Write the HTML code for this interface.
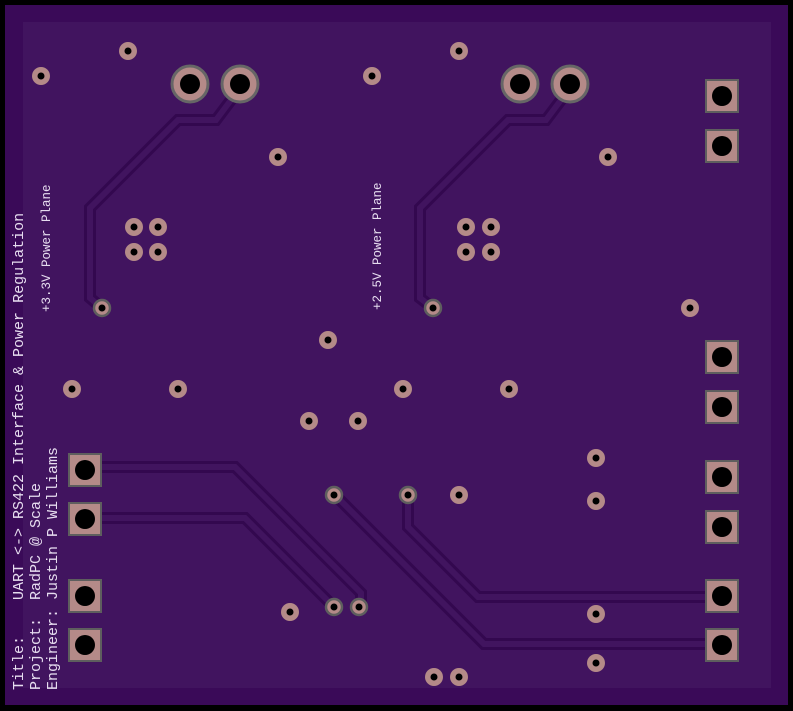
<!DOCTYPE html>
<html><head><style>
html,body{margin:0;padding:0;background:#000;}
svg{display:block;}
text{font-family:"Liberation Mono",monospace;fill:#e6dcef;}
</style></head><body>
<svg width="793" height="711" xmlns="http://www.w3.org/2000/svg">
<rect x="0" y="0" width="793" height="711" fill="#000"/>
<rect x="5" y="5" width="783" height="700" fill="#3a0a58"/>
<rect x="23" y="22" width="748" height="666" fill="#41145f"/>
<g fill="none" stroke-linejoin="miter">
<g stroke="#33084f" stroke-width="12">
<path d="M240,88 L216,120 L178,120 L90,208 L90,298 L102,308"/>
<path d="M570,88 L546,120 L508,120 L420,208 L420,298 L433,308"/>
<path d="M100,467 L235,467 L361,593 L361,607"/>
<path d="M100,518 L245,518 L334,607"/>
<path d="M334,494 L484,644 L722,644"/>
<path d="M408,494 L408,527 L478,597 L722,597"/>
</g>
<g stroke="#41145f" stroke-width="6">
<path d="M240,88 L216,120 L178,120 L90,208 L90,298 L102,308"/>
<path d="M570,88 L546,120 L508,120 L420,208 L420,298 L433,308"/>
<path d="M100,467 L235,467 L361,593 L361,607"/>
<path d="M100,518 L245,518 L334,607"/>
<path d="M334,494 L484,644 L722,644"/>
<path d="M408,494 L408,527 L478,597 L722,597"/>
</g>
</g>
<g fill="#b48a88" stroke="#666" stroke-width="3">
<circle cx="190" cy="84" r="18"/><circle cx="240" cy="84" r="18"/>
<circle cx="520" cy="84" r="18"/><circle cx="570" cy="84" r="18"/>
</g>
<g fill="#000">
<circle cx="190" cy="84" r="10"/><circle cx="240" cy="84" r="10"/>
<circle cx="520" cy="84" r="10"/><circle cx="570" cy="84" r="10"/>
</g>
<g fill="#b48a88" stroke="#5e5e5e" stroke-width="2">
<rect x="706" y="80" width="32" height="32"/><rect x="706" y="130" width="32" height="32"/>
<rect x="706" y="341" width="32" height="32"/><rect x="706" y="391" width="32" height="32"/>
<rect x="706" y="461" width="32" height="32"/><rect x="706" y="511" width="32" height="32"/>
<rect x="706" y="580" width="32" height="32"/><rect x="706" y="629" width="32" height="32"/>
<rect x="69" y="454" width="32" height="32"/><rect x="69" y="503" width="32" height="32"/>
<rect x="69" y="580" width="32" height="32"/><rect x="69" y="629" width="32" height="32"/>
</g>
<g fill="#000">
<circle cx="722" cy="96" r="10"/><circle cx="722" cy="146" r="10"/>
<circle cx="722" cy="357" r="10"/><circle cx="722" cy="407" r="10"/>
<circle cx="722" cy="477" r="10"/><circle cx="722" cy="527" r="10"/>
<circle cx="722" cy="596" r="10"/><circle cx="722" cy="645" r="10"/>
<circle cx="85" cy="470" r="10"/><circle cx="85" cy="519" r="10"/>
<circle cx="85" cy="596" r="10"/><circle cx="85" cy="645" r="10"/>
</g>
<g fill="#b48a88">
<circle cx="128" cy="51" r="9"/><circle cx="41" cy="76" r="9"/><circle cx="372" cy="76" r="9"/><circle cx="459" cy="51" r="9"/>
<circle cx="278" cy="157" r="9"/><circle cx="608" cy="157" r="9"/>
<circle cx="134" cy="227" r="9"/><circle cx="158" cy="227" r="9"/><circle cx="134" cy="252" r="9"/><circle cx="158" cy="252" r="9"/>
<circle cx="466" cy="227" r="9"/><circle cx="491" cy="227" r="9"/><circle cx="466" cy="252" r="9"/><circle cx="491" cy="252" r="9"/>
<circle cx="690" cy="308" r="9"/><circle cx="328" cy="340" r="9"/>
<circle cx="72" cy="389" r="9"/><circle cx="178" cy="389" r="9"/><circle cx="403" cy="389" r="9"/><circle cx="509" cy="389" r="9"/>
<circle cx="309" cy="421" r="9"/><circle cx="358" cy="421" r="9"/>
<circle cx="596" cy="458" r="9"/><circle cx="596" cy="501" r="9"/><circle cx="459" cy="495" r="9"/>
<circle cx="290" cy="612" r="9"/><circle cx="596" cy="614" r="9"/><circle cx="596" cy="663" r="9"/>
<circle cx="434" cy="677" r="9"/><circle cx="459" cy="677" r="9"/>
</g>
<g fill="#b48a88" stroke="#5e5e5e" stroke-width="2.5">
<circle cx="102" cy="308" r="8"/><circle cx="433" cy="308" r="8"/>
<circle cx="334" cy="495" r="8"/><circle cx="408" cy="495" r="8"/>
<circle cx="334" cy="607" r="8"/><circle cx="359" cy="607" r="8"/>
</g>
<g fill="#000">
<circle cx="128" cy="51" r="3.5"/><circle cx="41" cy="76" r="3.5"/><circle cx="372" cy="76" r="3.5"/><circle cx="459" cy="51" r="3.5"/>
<circle cx="278" cy="157" r="3.5"/><circle cx="608" cy="157" r="3.5"/>
<circle cx="134" cy="227" r="3.5"/><circle cx="158" cy="227" r="3.5"/><circle cx="134" cy="252" r="3.5"/><circle cx="158" cy="252" r="3.5"/>
<circle cx="466" cy="227" r="3.5"/><circle cx="491" cy="227" r="3.5"/><circle cx="466" cy="252" r="3.5"/><circle cx="491" cy="252" r="3.5"/>
<circle cx="690" cy="308" r="3.5"/><circle cx="328" cy="340" r="3.5"/>
<circle cx="72" cy="389" r="3.5"/><circle cx="178" cy="389" r="3.5"/><circle cx="403" cy="389" r="3.5"/><circle cx="509" cy="389" r="3.5"/>
<circle cx="309" cy="421" r="3.5"/><circle cx="358" cy="421" r="3.5"/>
<circle cx="596" cy="458" r="3.5"/><circle cx="596" cy="501" r="3.5"/><circle cx="459" cy="495" r="3.5"/>
<circle cx="290" cy="612" r="3.5"/><circle cx="596" cy="614" r="3.5"/><circle cx="596" cy="663" r="3.5"/>
<circle cx="434" cy="677" r="3.5"/><circle cx="459" cy="677" r="3.5"/>
<circle cx="102" cy="308" r="3.5"/><circle cx="433" cy="308" r="3.5"/>
<circle cx="334" cy="495" r="3.5"/><circle cx="408" cy="495" r="3.5"/>
<circle cx="334" cy="607" r="3.5"/><circle cx="359" cy="607" r="3.5"/>
</g>
<text transform="translate(23,690) rotate(-90)" font-size="15" xml:space="preserve">Title:    UART &lt;-&gt; RS422 Interface &amp; Power Regulation</text>
<text transform="translate(40,690) rotate(-90)" font-size="15" xml:space="preserve">Project:  RadPC @ Scale</text>
<text transform="translate(57,690) rotate(-90)" font-size="15" xml:space="preserve">Engineer: Justin P Williams</text>
<text transform="translate(50,312) rotate(-90)" font-size="12.5">+3.3V Power Plane</text>
<text transform="translate(381,310) rotate(-90)" font-size="12.5">+2.5V Power Plane</text>
</svg>
</body></html>
